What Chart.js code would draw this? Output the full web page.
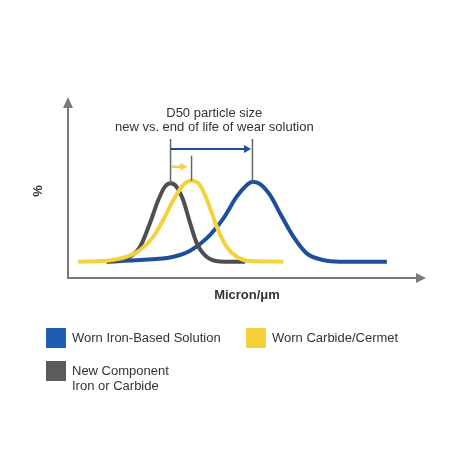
<!DOCTYPE html>
<html>
<head>
<meta charset="utf-8">
<script src="https://cdn.jsdelivr.net/npm/chart.js@4.4.0/dist/chart.umd.min.js"></script>
<style>
  body { margin: 0; background: #fff; font-family: 'Liberation Sans', Arial, sans-serif; }
  #wrap { position: relative; width: 474px; height: 474px; }
  #chart { position: absolute; left: 0; top: 0; }
  .key { position: absolute; display: flex; align-items: flex-start; color: #333; font-size: 13px; line-height: 15px; }
  .key span.box { width: 20px; height: 20px; margin-right: 6px; flex: none; }
  .key span.txt { padding-top: 2px; white-space: pre; }
</style>
</head>
<body>
<div id="wrap">
  <canvas id="chart" width="474" height="474"></canvas>
  <div id="legend"></div>
</div>
<script>
// Curves (x: size axis 0-100, y: % axis 0-100)
const ironX = [11.0, 20.6, 30.1, 34.9, 39.6, 44.4, 48.2, 51.1, 52.7, 54.9, 57.7, 60.6, 64.4, 68.2, 72.9, 77.7, 91.1];
const ironY = [9.3, 10.2, 12.1, 15.5, 22.5, 33.9, 46.2, 52.8, 54.7, 53.4, 47.2, 36.7, 23.5, 14.0, 10.2, 9.3, 9.3];

const carbideX = [2.9, 11.0, 16.8, 20.6, 24.4, 27.2, 30.1, 32.9, 35.3, 37.7, 40.1, 42.5, 45.3, 48.2, 52.0, 61.5];
const carbideY = [9.3, 9.8, 12.1, 15.9, 23.5, 33.0, 44.3, 52.8, 55.3, 52.8, 42.4, 29.2, 17.8, 12.1, 9.7, 9.3];

const newX = [11.0, 16.8, 20.6, 23.4, 25.8, 27.7, 29.3, 31.0, 32.9, 34.9, 36.8, 39.6, 43.4, 46.5, 50.6];
const newY = [9.3, 11.2, 17.8, 31.1, 44.3, 51.9, 53.8, 51.9, 44.3, 31.1, 19.7, 12.1, 9.4, 9.3, 9.3];

const legendLabels = ['Worn Iron-Based Solution', 'Worn Carbide/Cermet', 'New Component\nIron or Carbide'];
const titleLines = ['D50 particle size', 'new vs. end of life of wear solution'];
const xTitle = 'Micron/\u03bcm';
const yTitle = '%';

const colors = {
    iron: '#1d4f9c',
    carbide: '#f4d23e',
    newPart: '#4f4f4f',
    ironKey: '#1f5cb3',
    carbideKey: '#f6cf3d',
    newKey: '#5b5b5b',
    axis: '#7a7a7a',
    text: '#333333'
};

function toPoints(xs, ys) {
    return xs.map((x, i) => ({ x: x, y: ys[i] }));
}

function peakOf(xs, ys) {
    let best = 0;
    ys.forEach((y, i) => { if (y > ys[best]) best = i; });
    return { x: xs[best], y: ys[best] };
}

// Axes with arrows, D50 markers and labels
const decorPlugin = {
    id: 'decor',
    afterDraw(chart) {
        const ctx = chart.ctx;
        const xs = chart.scales.x;
        const ys = chart.scales.y;
        const area = chart.chartArea;
        ctx.save();

        // axes
        ctx.strokeStyle = colors.axis;
        ctx.fillStyle = colors.axis;
        ctx.lineWidth = 2;
        ctx.beginPath();
        ctx.moveTo(area.left, area.bottom);
        ctx.lineTo(area.left, area.top);
        ctx.moveTo(area.left - 1, area.bottom);
        ctx.lineTo(area.right + 2, area.bottom);
        ctx.stroke();
        ctx.beginPath();
        ctx.moveTo(area.left, area.top - 5);
        ctx.lineTo(area.left - 5, area.top + 6);
        ctx.lineTo(area.left + 5, area.top + 6);
        ctx.closePath();
        ctx.fill();
        ctx.beginPath();
        ctx.moveTo(area.right + 8, area.bottom);
        ctx.lineTo(area.right - 2, area.bottom - 5);
        ctx.lineTo(area.right - 2, area.bottom + 5);
        ctx.closePath();
        ctx.fill();

        // D50 markers
        const pNew = peakOf(newX, newY);
        const pCarb = peakOf(carbideX, carbideY);
        const pIron = peakOf(ironX, ironY);
        ctx.strokeStyle = '#666';
        ctx.lineWidth = 1.5;
        ctx.beginPath();
        ctx.moveTo(xs.getPixelForValue(pNew.x), ys.getPixelForValue(79));
        ctx.lineTo(xs.getPixelForValue(pNew.x), ys.getPixelForValue(pNew.y));
        ctx.moveTo(xs.getPixelForValue(pIron.x), ys.getPixelForValue(79));
        ctx.lineTo(xs.getPixelForValue(pIron.x), ys.getPixelForValue(pIron.y));
        ctx.moveTo(xs.getPixelForValue(pCarb.x), ys.getPixelForValue(69.5));
        ctx.lineTo(xs.getPixelForValue(pCarb.x), ys.getPixelForValue(pCarb.y));
        ctx.stroke();

        function arrow(x0, x1, yv, col, w) {
            const a = xs.getPixelForValue(x0);
            const b = xs.getPixelForValue(x1);
            const y = ys.getPixelForValue(yv);
            ctx.strokeStyle = col;
            ctx.fillStyle = col;
            ctx.lineWidth = w;
            ctx.beginPath();
            ctx.moveTo(a, y);
            ctx.lineTo(b - 5, y);
            ctx.stroke();
            ctx.beginPath();
            ctx.moveTo(b, y);
            ctx.lineTo(b - 7, y - 4);
            ctx.lineTo(b - 7, y + 4);
            ctx.closePath();
            ctx.fill();
        }
        arrow(pNew.x, pIron.x - 0.4, 73.3, colors.iron, 2);
        arrow(pNew.x + 0.3, pCarb.x - 1.2, 63.2, colors.carbide, 2.5);

        // texts
        ctx.fillStyle = colors.text;
        ctx.textAlign = 'center';
        ctx.textBaseline = 'middle';
        ctx.font = '13px "Liberation Sans", Arial, sans-serif';
        const cx = xs.getPixelForValue(41.8);
        ctx.fillText(titleLines[0], cx, 113);
        ctx.fillText(titleLines[1], cx, 127);

        ctx.font = 'bold 13px "Liberation Sans", Arial, sans-serif';
        ctx.fillText(xTitle, (area.left + area.right) / 2 + 4, 295);
        ctx.translate(38, 191);
        ctx.rotate(-Math.PI / 2);
        ctx.fillText(yTitle, 0, 0);
        ctx.restore();
    }
};

const lineStyle = { borderWidth: 4, pointRadius: 0, fill: false, cubicInterpolationMode: 'monotone', borderCapStyle: 'butt' };

new Chart(document.getElementById('chart'), {
    type: 'line',
    data: {
        datasets: [
            Object.assign({ label: legendLabels[1], data: toPoints(carbideX, carbideY), borderColor: colors.carbide }, lineStyle),
            Object.assign({ label: legendLabels[2], data: toPoints(newX, newY), borderColor: colors.newPart }, lineStyle),
            Object.assign({ label: legendLabels[0], data: toPoints(ironX, ironY), borderColor: colors.iron }, lineStyle)
        ]
    },
    options: {
        responsive: false,
        animation: false,
        layout: { padding: { left: 68, right: 56, top: 102, bottom: 196 } },
        scales: {
            x: { type: 'linear', min: 0, max: 100, display: false },
            y: { min: 0, max: 100, display: false }
        },
        plugins: { legend: { display: false }, tooltip: { enabled: false } }
    },
    plugins: [decorPlugin]
});

// HTML legend
const keyPos = [
    { left: 46, top: 328, color: colors.ironKey },
    { left: 246, top: 328, color: colors.carbideKey },
    { left: 46, top: 361, color: colors.newKey }
];
const legendEl = document.getElementById('legend');
legendLabels.forEach((label, i) => {
    const d = document.createElement('div');
    d.className = 'key';
    d.style.left = keyPos[i].left + 'px';
    d.style.top = keyPos[i].top + 'px';
    d.innerHTML = '<span class="box" style="background:' + keyPos[i].color + '"></span><span class="txt"></span>';
    d.querySelector('.txt').textContent = label;
    legendEl.appendChild(d);
});
</script>
</body>
</html>
